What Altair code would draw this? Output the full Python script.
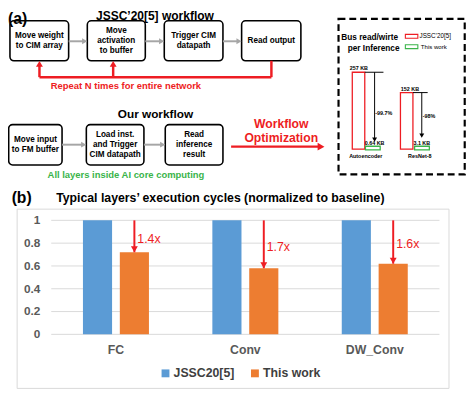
import altair as alt
import pandas as pd

FONT = "Liberation Sans"
RED = "#ee1d23"
GREEN = "#3ab44a"
GRAY_TXT = "#595959"

# ---------------- bar chart data (b) ----------------
layers = ["FC", "Conv", "DW_Conv"]
series = ["JSSC20[5]", "This work"]
baseline_cycles = [1.0, 1.0, 1.0]
ours_cycles = [0.72, 0.58, 0.62]
speedups = ["1.4x", "1.7x", "1.6x"]
y_ticks = [0, 0.2, 0.4, 0.6, 0.8, 1.0]
y_tick_labels = ["0", "0.2", "0.4", "0.6", "0.8", "1"]
bar_colors = ["#5b9bd5", "#ed7d31"]

# ---------------- inset (bus traffic) ----------------
networks = ["Autoencoder", "ResNet-8"]
bus_baseline = ["257 KB", "152 KB"]
bus_ours = ["0.64 KB", "3.1 KB"]
bus_reduction = ["-99.7%", "-98%"]

# ---------------- workflow text ----------------
old_steps = ["Move weight\nto CIM array", "Move\nactivation\nto buffer",
             "Trigger CIM\ndatapath", "Read output"]
new_steps = ["Move input\nto FM buffer", "Load inst.\nand Trigger\nCIM datapath",
             "Read\ninference\nresult"]

# ---------------- diagram layout (reference pixel frame) ----------------
old_x0 = [10, 88.7, 167, 245.7]
old_x1 = [69.7, 147.7, 226.7, 306]
old_y = (17.7, 58.3)
new_x0 = [8.7, 87.7, 168]
new_x1 = [63, 146.3, 226.7]
new_y = (123.3, 164.3)
BOX_LH = 10.3
OPT_LH = 14.6

BX = alt.Scale(domain=[8, 474], range=[0, 466])
BY = alt.Scale(domain=[8, 393], range=[0, 385])


def X(f):
    return alt.X(f"{f}:Q", scale=BX, axis=None)


def Y(f):
    return alt.Y(f"{f}:Q", scale=BY, axis=None)


# boxes
box_df = pd.DataFrame({
    "x": old_x0 + new_x0,
    "x2": old_x1 + new_x1,
    "y": [old_y[0]] * 4 + [new_y[0]] * 3,
    "y2": [old_y[1]] * 4 + [new_y[1]] * 3,
})
boxes = alt.Chart(box_df).mark_rect(
    cornerRadius=4, fill="white", stroke="black", strokeWidth=1.6
).encode(x=X("x"), x2="x2", y=Y("y"), y2="y2")

steps = old_steps + new_steps
centers_y = [sum(old_y) / 2] * 4 + [sum(new_y) / 2] * 3
box_txt_df = pd.DataFrame({
    "t": steps,
    "x": [(a + b) / 2 for a, b in zip(old_x0 + new_x0, old_x1 + new_x1)],
    # first line position so that the block is vertically centred
    "y": [cy - (s.count("\n")) * BOX_LH / 2 for s, cy in zip(steps, centers_y)],
})
box_txt = alt.Chart(box_txt_df).mark_text(
    font=FONT, fontSize=8.3, fontWeight="bold", color="black",
    lineBreak="\n", lineHeight=BOX_LH, align="center", baseline="middle"
).encode(x=X("x"), y=Y("y"), text="t:N")

# line segments
seg = [
    # gray flow arrows
    (69.7, 38.5, 85.5, 38.5, "#a6a6a6", 2),
    (147.7, 38.5, 164, 38.5, "#a6a6a6", 2),
    (226.7, 38.5, 242.5, 38.5, "#a6a6a6", 2),
    (63, 143.7, 84.5, 143.7, "#a6a6a6", 2),
    (146.3, 143.7, 165, 143.7, "#a6a6a6", 2),
    # red feedback loop
    (276, 58.3, 276, 75, RED, 2.5),
    (40, 75, 276, 75, RED, 2.5),
    (40, 75, 40, 62, RED, 2.5),
    (115, 75, 115, 62, RED, 2.5),
    # optimisation arrow
    (235, 145.7, 325, 145.7, RED, 2.5),
    # inset black arrows
    (371, 70, 390, 70, "black", 1),
    (381, 70, 381, 137, "black", 1),
    (420, 90.7, 435, 90.7, "black", 1),
    (429, 90.7, 429, 133, "black", 1),
]
seg_df = pd.DataFrame(seg, columns=["x", "y", "x2", "y2", "c", "w"])
segs = alt.Chart(seg_df).mark_rule().encode(
    x=X("x"), y=Y("y"), x2="x2", y2="y2",
    color=alt.Color("c:N", scale=None),
    strokeWidth=alt.StrokeWidth("w:Q", scale=None),
)

heads_df = pd.DataFrame([
    (86.0, 38.5, "triangle-right", 36, "#a6a6a6"),
    (164.3, 38.5, "triangle-right", 36, "#a6a6a6"),
    (243.0, 38.5, "triangle-right", 36, "#a6a6a6"),
    (85.0, 143.7, "triangle-right", 36, "#a6a6a6"),
    (165.4, 143.7, "triangle-right", 36, "#a6a6a6"),
    (40, 61.5, "triangle-up", 49, RED),
    (115, 61.5, "triangle-up", 49, RED),
    (326.5, 145.7, "triangle-right", 64, RED),
    (381, 138.5, "triangle-down", 25, "black"),
    (429, 134.5, "triangle-down", 25, "black"),
], columns=["x", "y", "s", "z", "c"])
heads = alt.Chart(heads_df).mark_point(filled=True, opacity=1, strokeWidth=0).encode(
    x=X("x"), y=Y("y"),
    shape=alt.Shape("s:N", scale=None),
    size=alt.Size("z:Q", scale=None),
    color=alt.Color("c:N", scale=None),
)

# outlined rectangles (inset bars, legend swatches, frame of (b))
orect_df = pd.DataFrame([
    (358.3, 70, 371, 148.3, RED, 1.3),
    (407.3, 90.7, 420, 148.3, RED, 1.3),
    (371.7, 145.3, 386.7, 149, GREEN, 1.3),
    (421.7, 145.3, 436.7, 149, GREEN, 1.3),
    (412.3, 31.5, 425, 35.5, RED, 1.1),
    (412.3, 42, 425, 46, GREEN, 1.1),
    (17.3, 209.3, 456.7, 391.7, "#d9d9d9", 1),
], columns=["x", "y", "x2", "y2", "c", "w"])
orects = alt.Chart(orect_df).mark_rect(filled=False).encode(
    x=X("x"), x2="x2", y=Y("y"), y2="y2",
    color=alt.Color("c:N", scale=None),
    strokeWidth=alt.StrokeWidth("w:Q", scale=None),
)

dash_df = pd.DataFrame({"x": [344.3], "x2": [472.7], "y": [15.7], "y2": [174]})
dashbox = alt.Chart(dash_df).mark_rect(
    filled=False, color="black", strokeWidth=2.2, strokeDash=[7, 4]
).encode(x=X("x"), x2="x2", y=Y("y"), y2="y2")

# texts
ctext_df = pd.DataFrame([
    ("JSSC’20[5] workflow", 157.5, 13.2, 12.2, "black"),
    ("Our workflow", 158, 113, 12, "black"),
    ("Repeat N times for entire network", 128, 84, 9.6, RED),
    ("All layers inside AI core computing", 128, 175, 9.6, GREEN),
    ("Bus read/wirte", 376, 34, 8.4, "black"),
    ("per Inference", 380, 45.3, 8.4, "black"),
    (bus_baseline[0], 365, 66, 5.5, "black"),
    (bus_baseline[1], 417, 87, 5.5, "black"),
    (bus_ours[0], 381, 141.7, 5.5, "black"),
    (bus_ours[1], 429, 141.7, 5.5, "black"),
    (networks[0], 372, 155, 5.5, "black"),
    (networks[1], 427, 155, 5.5, "black"),
], columns=["t", "x", "y", "s", "c"])
ctext = alt.Chart(ctext_df).mark_text(
    font=FONT, fontWeight="bold", align="center", baseline="middle"
).encode(
    x=X("x"), y=Y("y"), text="t:N",
    size=alt.Size("s:Q", scale=None), color=alt.Color("c:N", scale=None),
)

ltext_df = pd.DataFrame([
    ("(a)", 8, 15.5, 16, "black"),
    ("(b)", 11.7, 198, 16, "black"),
    ("Typical layers’ execution cycles (normalized to baseline)", 57, 198, 12.5, "black"),
    (bus_reduction[0], 381.7, 111.7, 5.5, "black"),
    (bus_reduction[1], 430, 115, 5.5, "black"),
], columns=["t", "x", "y", "s", "c"])
ltext = alt.Chart(ltext_df).mark_text(
    font=FONT, fontWeight="bold", align="left", baseline="middle"
).encode(
    x=X("x"), y=Y("y"), text="t:N",
    size=alt.Size("s:Q", scale=None), color=alt.Color("c:N", scale=None),
)

ntext_df = pd.DataFrame([
    ("JSSC’20[5]", 426.7, 33.5, 6.4),
    ("This work", 428, 44, 6.2),
], columns=["t", "x", "y", "s"])
ntext = alt.Chart(ntext_df).mark_text(
    font=FONT, align="left", baseline="middle", color="black"
).encode(x=X("x"), y=Y("y"), text="t:N", size=alt.Size("s:Q", scale=None))

opt_df = pd.DataFrame({"t": ["Workflow\nOptimization"], "x": [286], "y": [130 - OPT_LH / 2]})
opt_text = alt.Chart(opt_df).mark_text(
    font=FONT, fontWeight="bold", fontSize=12.4, color=RED,
    lineBreak="\n", lineHeight=OPT_LH, align="center", baseline="middle"
).encode(x=X("x"), y=Y("y"), text="t:N")

diagram = alt.layer(orects, dashbox, boxes, box_txt, segs, heads,
                    ctext, ltext, ntext, opt_text)

# ---------------- bar chart (b) ----------------
XS = alt.Scale(domain=layers, range=[44, 439], paddingInner=0.49, paddingOuter=0.245)
XO = alt.Scale(domain=series, paddingInner=0.21, paddingOuter=0)
YS = alt.Scale(domain=[0, 1], range=[328.7, 212.7], nice=False, zero=False)
CS = alt.Scale(domain=series, range=bar_colors)

bar_df = pd.DataFrame({
    "layer": layers * 2,
    "series": [series[0]] * 3 + [series[1]] * 3,
    "value": baseline_cycles + ours_cycles,
})
tick_df = pd.DataFrame({"v": y_ticks, "lab": y_tick_labels})
arrow_df = pd.DataFrame({
    "layer": layers, "series": [series[1]] * 3,
    "value": ours_cycles, "lab": speedups,
})

grid = alt.Chart(tick_df).mark_rule(color="#d9d9d9", strokeWidth=1).encode(
    y=alt.Y("v:Q", scale=YS, axis=None), x=alt.value(44), x2=alt.value(439)
)
ylabels = alt.Chart(tick_df).mark_text(
    font=FONT, fontSize=12, fontWeight="bold", color=GRAY_TXT,
    align="right", baseline="middle"
).encode(y=alt.Y("v:Q", scale=YS, axis=None), x=alt.value(33), text="lab:N")

bars = alt.Chart(bar_df).mark_bar().encode(
    x=alt.X("layer:N", scale=XS, axis=None, sort=layers),
    xOffset=alt.XOffset("series:N", scale=XO, sort=series),
    y=alt.Y("value:Q", scale=YS, axis=None),
    color=alt.Color("series:N", scale=CS, sort=series, legend=alt.Legend(
        orient="none", legendX=154, legendY=362, direction="horizontal",
        title=None, symbolType="square", symbolSize=64, symbolStrokeWidth=0,
        labelFont=FONT, labelFontSize=12.5, labelFontWeight="bold",
        labelColor="#404040", labelOffset=2, columnPadding=14, padding=0,
    )),
)

arrows = alt.Chart(arrow_df).transform_calculate(top="1").mark_rule(
    color=RED, strokeWidth=2
).encode(
    x=alt.X("layer:N", scale=XS, axis=None, sort=layers),
    xOffset=alt.XOffset("series:N", scale=XO, sort=series),
    y=alt.Y("top:Q", scale=YS, axis=None), y2="value:Q",
)
arrow_heads = alt.Chart(arrow_df).mark_point(
    shape="triangle-down", filled=True, size=49, color=RED, opacity=1,
    strokeWidth=0, yOffset=-3
).encode(
    x=alt.X("layer:N", scale=XS, axis=None, sort=layers),
    xOffset=alt.XOffset("series:N", scale=XO, sort=series),
    y=alt.Y("value:Q", scale=YS, axis=None),
)
speed_txt = alt.Chart(arrow_df).transform_calculate(
    mid="(1 + datum.value) / 2"
).mark_text(
    font=FONT, fontSize=12.5, color=RED, align="left", baseline="middle",
    dx=3, dy=2.4
).encode(
    x=alt.X("layer:N", scale=XS, axis=None, sort=layers),
    xOffset=alt.XOffset("series:N", scale=XO, sort=series),
    y=alt.Y("mid:Q", scale=YS, axis=None), text="lab:N",
)
cat_df = pd.DataFrame({"layer": layers})
cat_txt = alt.Chart(cat_df).mark_text(
    font=FONT, fontSize=12.5, fontWeight="bold", color=GRAY_TXT,
    align="center", baseline="middle"
).encode(
    x=alt.X("layer:N", scale=XS, axis=None, sort=layers),
    y=alt.value(345), text="layer:N",
)

barchart = alt.layer(grid, ylabels, bars, arrows, arrow_heads, speed_txt, cat_txt)

chart = alt.layer(diagram, barchart).resolve_scale(
    x="independent", y="independent", color="independent",
    size="independent", shape="independent", strokeWidth="independent"
).properties(
    width=466, height=385, padding=0, autosize="none", background="white"
).configure_view(stroke=None)

chart.save("out.html", embed_options={"renderer": "svg", "actions": False})
